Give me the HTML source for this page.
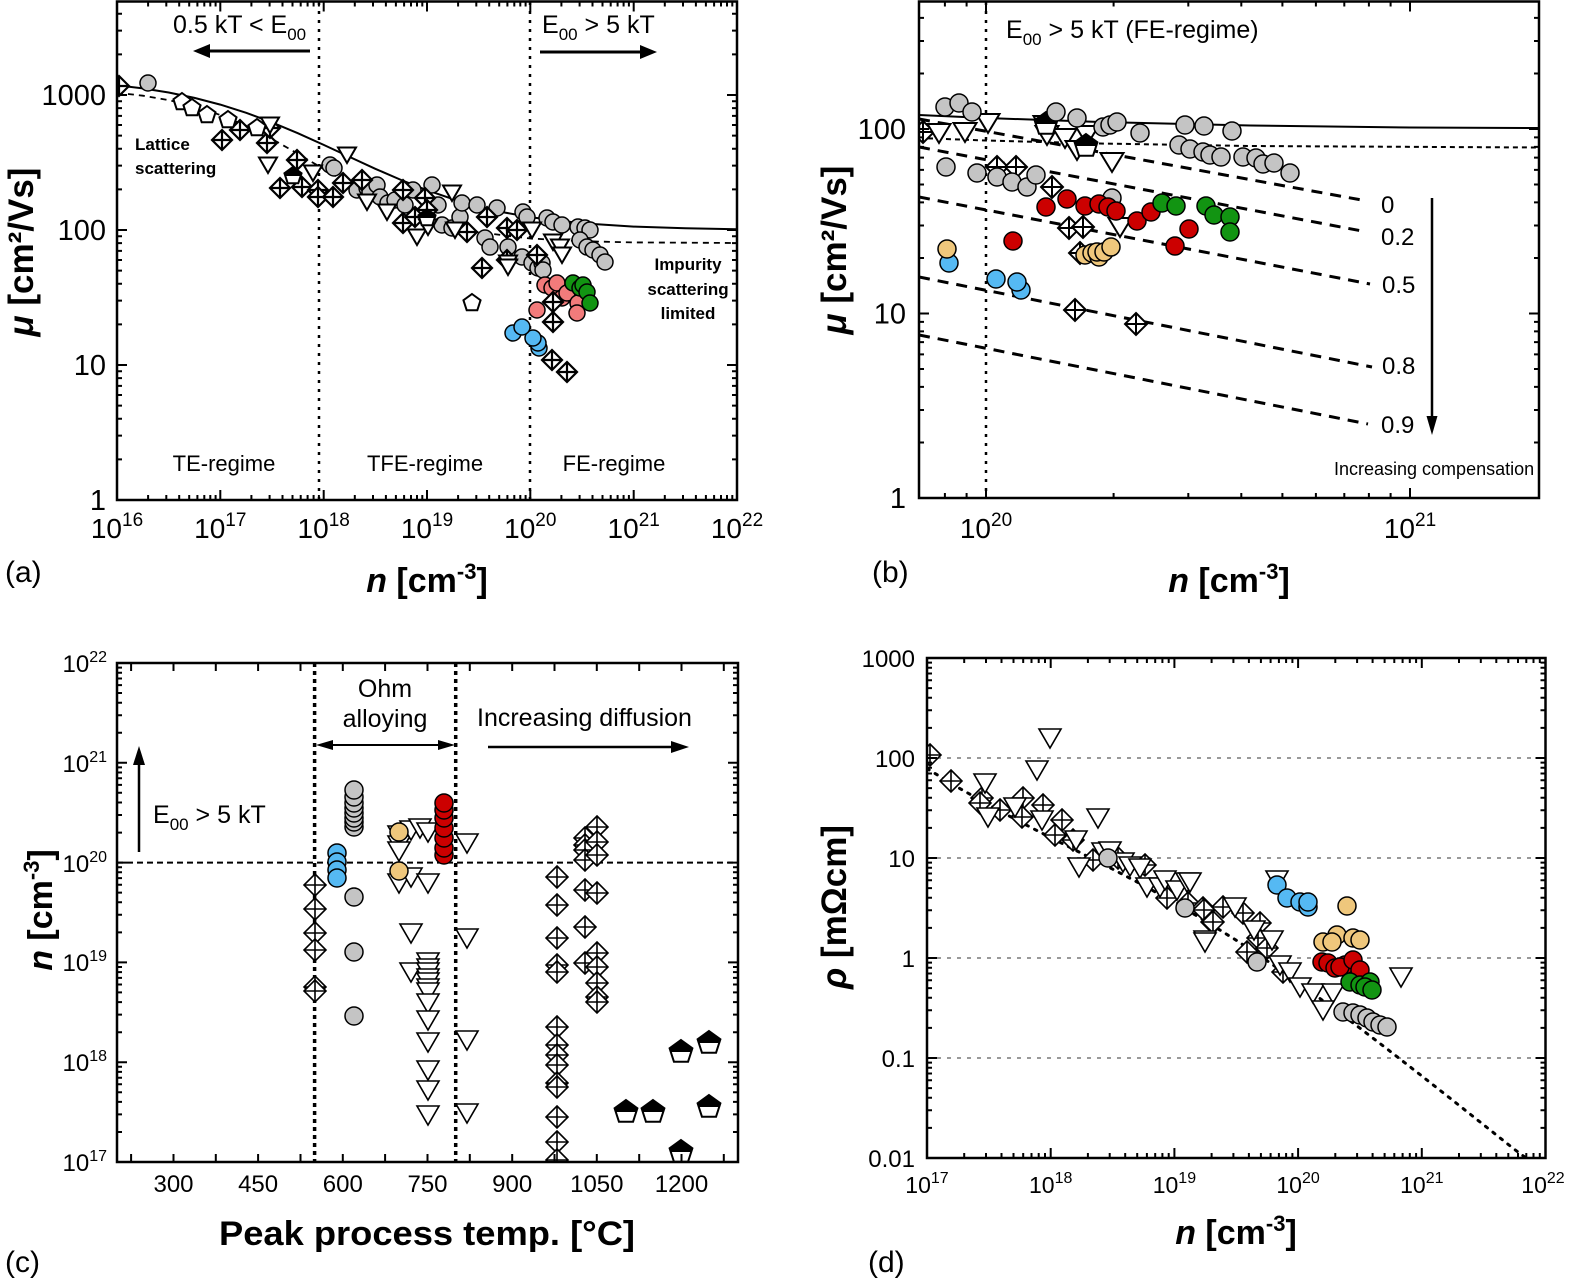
<!DOCTYPE html>
<html><head><meta charset="utf-8"><style>
html,body{margin:0;padding:0;background:#fff;}
svg{display:block;font-family:"Liberation Sans",Arial,sans-serif;}
</style></head><body>
<svg width="1570" height="1280" viewBox="0 0 1570 1280" xmlns="http://www.w3.org/2000/svg">
<defs>
<clipPath id="ca"><rect x="117" y="1.5" width="620" height="498.5"/></clipPath>
<clipPath id="cb"><rect x="919" y="1.5" width="620" height="496.5"/></clipPath>
<clipPath id="cc"><rect x="117" y="663" width="621" height="499"/></clipPath>
<clipPath id="cd"><rect x="927" y="658" width="618.5" height="500"/></clipPath>
<path id="tA" d="M-9,-7.5H9L0,8Z" fill="#fff" stroke="#000" stroke-width="2"/>
<g id="dA" stroke="#000" stroke-width="2.2"><path d="M0,-10L10,0L0,10L-10,0Z" fill="#fff"/><path d="M0,-10V10M-10,0H10" fill="none"/></g>
<path id="pA" d="M0,-9L8.56,-2.78L5.29,7.28L-5.29,7.28L-8.56,-2.78Z" fill="#fff" stroke="#000" stroke-width="2"/>
<g id="hA"><path d="M0,-9L8.56,-2.78L5.29,7.28L-5.29,7.28L-8.56,-2.78Z" fill="#fff" stroke="#000" stroke-width="2"/><path d="M0,-9L8.56,-2.78L7.66,0L-7.66,0L-8.56,-2.78Z" fill="#000"/></g>
<path id="tB" d="M-11.5,-9H11.5L0,10Z" fill="#fff" stroke="#000" stroke-width="2"/>
<g id="dB" stroke="#000" stroke-width="2"><path d="M0,-11L11,0L0,11L-11,0Z" fill="#fff"/><path d="M0,-11V11M-11,0H11" fill="none"/></g>
<g id="dC" stroke="#000" stroke-width="1.6"><path d="M0,-11L11,0L0,11L-11,0Z" fill="#fff"/><path d="M0,-11V11M-11,0H11" fill="none"/></g>
<path id="tC" d="M-11,-9H11L0,10Z" fill="#fff" stroke="#000" stroke-width="1.6"/>
<g id="hC"><path d="M0,-12L11.4,-3.7L7.05,9.7L-7.05,9.7L-11.4,-3.7Z" fill="#fff" stroke="#000" stroke-width="2"/><path d="M0,-12L11.4,-3.7L10.2,0L-10.2,0L-11.4,-3.7Z" fill="#000"/></g>

<path id="xa" d="M117 0v-10M220.3 0v-10M323.7 0v-10M427 0v-10M530.3 0v-10M633.7 0v-10M737 0v-10M148.1 0v-5M166.3 0v-5M179.2 0v-5M189.2 0v-5M197.4 0v-5M204.3 0v-5M210.3 0v-5M215.6 0v-5M251.4 0v-5M269.6 0v-5M282.5 0v-5M292.5 0v-5M300.7 0v-5M307.6 0v-5M313.6 0v-5M318.9 0v-5M354.8 0v-5M373 0v-5M385.9 0v-5M395.9 0v-5M404.1 0v-5M411 0v-5M417 0v-5M422.3 0v-5M458.1 0v-5M476.3 0v-5M489.2 0v-5M499.2 0v-5M507.4 0v-5M514.3 0v-5M520.3 0v-5M525.6 0v-5M561.4 0v-5M579.6 0v-5M592.5 0v-5M602.5 0v-5M610.7 0v-5M617.6 0v-5M623.6 0v-5M628.9 0v-5M664.8 0v-5M683 0v-5M695.9 0v-5M705.9 0v-5M714.1 0v-5M721 0v-5M727 0v-5M732.3 0v-5" stroke="#000" stroke-width="2" fill="none"/>
<path id="ya" d="M0 500h10M0 365h10M0 230h10M0 95h10M0 459.4h5M0 435.6h5M0 418.7h5M0 405.6h5M0 395h5M0 385.9h5M0 378.1h5M0 371.2h5M0 324.4h5M0 300.6h5M0 283.7h5M0 270.6h5M0 260h5M0 250.9h5M0 243.1h5M0 236.2h5M0 189.4h5M0 165.6h5M0 148.7h5M0 135.6h5M0 125h5M0 115.9h5M0 108.1h5M0 101.2h5M0 54.4h5M0 30.6h5M0 13.7h5" stroke="#000" stroke-width="2" fill="none"/>
<path id="xb" d="M986 0v-10M1410 0v-10M944.9 0v-5M966.6 0v-5M1113.6 0v-5M1188.3 0v-5M1241.3 0v-5M1282.4 0v-5M1315.9 0v-5M1344.3 0v-5M1368.9 0v-5M1390.6 0v-5" stroke="#000" stroke-width="2" fill="none"/>
<path id="yb" d="M0 498h10M0 313.5h10M0 129h10M0 442.5h5M0 410h5M0 386.9h5M0 369h5M0 354.4h5M0 342.1h5M0 331.4h5M0 321.9h5M0 258h5M0 225.5h5M0 202.4h5M0 184.5h5M0 169.9h5M0 157.6h5M0 146.9h5M0 137.4h5M0 73.5h5M0 41h5M0 17.9h5" stroke="#000" stroke-width="2" fill="none"/>
<path id="xc" d="M131.1 0v-8M173.5 0v-8M215.8 0v-8M258.1 0v-8M300.5 0v-8M342.8 0v-8M385.1 0v-8M427.5 0v-8M469.8 0v-8M512.2 0v-8M554.5 0v-8M596.8 0v-8M639.2 0v-8M681.5 0v-8M723.8 0v-8" stroke="#000" stroke-width="2" fill="none"/>
<path id="yc" d="M0 762.8h10M0 862.6h10M0 962.4h10M0 1062.2h10M0 1132h5M0 1114.4h5M0 1101.9h5M0 1092.2h5M0 1084.3h5M0 1077.7h5M0 1071.9h5M0 1066.8h5M0 1032.2h5M0 1014.6h5M0 1002.1h5M0 992.4h5M0 984.5h5M0 977.9h5M0 972.1h5M0 967h5M0 932.4h5M0 914.8h5M0 902.3h5M0 892.6h5M0 884.7h5M0 878.1h5M0 872.3h5M0 867.2h5M0 832.6h5M0 815h5M0 802.5h5M0 792.8h5M0 784.9h5M0 778.3h5M0 772.5h5M0 767.4h5M0 732.8h5M0 715.2h5M0 702.7h5M0 693h5M0 685.1h5M0 678.5h5M0 672.7h5M0 667.6h5" stroke="#000" stroke-width="2" fill="none"/>
<path id="xd" d="M1050.7 0v-10M1174.4 0v-10M1298.1 0v-10M1421.8 0v-10M964.2 0v-5M986 0v-5M1001.5 0v-5M1013.5 0v-5M1023.2 0v-5M1031.5 0v-5M1038.7 0v-5M1045 0v-5M1087.9 0v-5M1109.7 0v-5M1125.2 0v-5M1137.2 0v-5M1146.9 0v-5M1155.2 0v-5M1162.4 0v-5M1168.7 0v-5M1211.6 0v-5M1233.4 0v-5M1248.9 0v-5M1260.9 0v-5M1270.6 0v-5M1278.9 0v-5M1286.1 0v-5M1292.4 0v-5M1335.3 0v-5M1357.1 0v-5M1372.6 0v-5M1384.6 0v-5M1394.3 0v-5M1402.6 0v-5M1409.8 0v-5M1416.1 0v-5M1459 0v-5M1480.8 0v-5M1496.3 0v-5M1508.3 0v-5M1518 0v-5M1526.3 0v-5M1533.5 0v-5M1539.8 0v-5" stroke="#000" stroke-width="2" fill="none"/>
<path id="yd" d="M0 758h10M0 858h10M0 958h10M0 1058h10M0 1127.9h5M0 1110.3h5M0 1097.8h5M0 1088.1h5M0 1080.2h5M0 1073.5h5M0 1067.7h5M0 1062.6h5M0 1027.9h5M0 1010.3h5M0 997.8h5M0 988.1h5M0 980.2h5M0 973.5h5M0 967.7h5M0 962.6h5M0 927.9h5M0 910.3h5M0 897.8h5M0 888.1h5M0 880.2h5M0 873.5h5M0 867.7h5M0 862.6h5M0 827.9h5M0 810.3h5M0 797.8h5M0 788.1h5M0 780.2h5M0 773.5h5M0 767.7h5M0 762.6h5M0 727.9h5M0 710.3h5M0 697.8h5M0 688.1h5M0 680.2h5M0 673.5h5M0 667.7h5M0 662.6h5" stroke="#000" stroke-width="2" fill="none"/>
</defs>
<rect width="1570" height="1280" fill="#fff"/>

<!-- ================= PANEL A ================= -->
<g clip-path="url(#ca)">
<line x1="319" y1="2" x2="319" y2="499" stroke="#000" stroke-width="2.5" stroke-dasharray="3 6"/>
<line x1="530" y1="2" x2="530" y2="499" stroke="#000" stroke-width="2.5" stroke-dasharray="3 6"/>
<polyline fill="none" stroke="#000" stroke-width="2" points="117,85.3 142.8,88.4 168.7,92.5 194.5,97.9 220.3,104.6 246.2,112.8 272,122.4 297.8,133.2 323.7,144.9 349.5,156.9 375.3,168.8 401.2,180 427,190.2 452.8,199.1 478.7,206.5 504.5,212.5 530.3,217.2 582,223.3 633.7,226.6 685.3,228.3 737,229.3"/>
<polyline fill="none" stroke="#000" stroke-width="1.8" stroke-dasharray="6 5" points="117,92.7 142.8,95.7 168.7,100.1 194.5,106.5 220.3,115 246.2,125.8 272,139 297.8,153.7 323.7,169.1 349.5,184.3 375.3,198.2 401.2,210.2 427,219.8 478.7,232.3 530.3,238.5 582,241.2 633.7,242.4 737,243"/>
<g fill="#c4c4c4" stroke="#000" stroke-width="1.5">
<circle cx="148" cy="83" r="8"/><circle cx="330" cy="165" r="8"/><circle cx="334" cy="168" r="8"/><circle cx="357" cy="190" r="8"/><circle cx="367" cy="188" r="8"/><circle cx="370" cy="192" r="8"/><circle cx="377" cy="185" r="8"/><circle cx="380" cy="197" r="8"/><circle cx="388" cy="203" r="8"/><circle cx="395" cy="200" r="8"/><circle cx="405" cy="205" r="8"/><circle cx="413" cy="190" r="8"/><circle cx="432" cy="185" r="8"/><circle cx="438" cy="205" r="8"/><circle cx="442" cy="225" r="8"/><circle cx="452" cy="228" r="8"/><circle cx="460" cy="217" r="8"/><circle cx="462" cy="203" r="8"/><circle cx="477" cy="205" r="8"/><circle cx="497" cy="208" r="8"/><circle cx="485" cy="238" r="8"/><circle cx="490" cy="247" r="8"/><circle cx="508" cy="247" r="8"/><circle cx="522" cy="257" r="8"/><circle cx="523" cy="212" r="8"/><circle cx="527" cy="217" r="8"/><circle cx="532" cy="263" r="8"/><circle cx="538" cy="268" r="8"/><circle cx="542" cy="263" r="8"/><circle cx="543" cy="270" r="8"/><circle cx="547" cy="218" r="8"/><circle cx="553" cy="222" r="8"/><circle cx="562" cy="225" r="8"/><circle cx="578" cy="227" r="8"/><circle cx="585" cy="228" r="8"/><circle cx="590" cy="230" r="8"/><circle cx="580" cy="240" r="8"/><circle cx="587" cy="247" r="8"/><circle cx="593" cy="250" r="8"/><circle cx="600" cy="255" r="8"/><circle cx="605" cy="262" r="8"/>
</g>
<g fill="#f27b7b" stroke="#000" stroke-width="1.5">
<circle cx="537" cy="310" r="8"/><circle cx="545" cy="285" r="8"/><circle cx="552" cy="288" r="8"/><circle cx="557" cy="283" r="8"/><circle cx="562" cy="298" r="8"/><circle cx="567" cy="293" r="8"/><circle cx="578" cy="303" r="8"/><circle cx="577" cy="313" r="8"/>
</g>
<g fill="#129412" stroke="#000" stroke-width="1.5">
<circle cx="573" cy="283" r="8"/><circle cx="580" cy="288" r="8"/><circle cx="583" cy="285" r="8"/><circle cx="587" cy="292" r="8"/><circle cx="590" cy="303" r="8"/>
</g>
<g fill="#55b9f3" stroke="#000" stroke-width="1.5">
<circle cx="539" cy="348" r="8"/><circle cx="538" cy="343" r="8"/><circle cx="533" cy="338" r="8"/><circle cx="513" cy="333" r="8"/><circle cx="522" cy="327" r="8"/>
</g>
<g>
<use href="#dA" x="119" y="86"/><use href="#dA" x="222" y="140"/><use href="#dA" x="240" y="130"/><use href="#dA" x="267" y="143"/><use href="#dA" x="270" y="128"/><use href="#dA" x="297" y="160"/><use href="#dA" x="280" y="188"/><use href="#dA" x="302" y="187"/><use href="#dA" x="318" y="190"/><use href="#dA" x="318" y="197"/><use href="#dA" x="333" y="197"/><use href="#dA" x="343" y="183"/><use href="#dA" x="362" y="180"/><use href="#dA" x="403" y="190"/><use href="#dA" x="403" y="223"/><use href="#dA" x="415" y="217"/><use href="#dA" x="425" y="198"/><use href="#dA" x="427" y="210"/><use href="#dA" x="467" y="232"/><use href="#dA" x="487" y="217"/><use href="#dA" x="482" y="268"/><use href="#dA" x="507" y="228"/><use href="#dA" x="517" y="230"/><use href="#dA" x="507" y="260"/><use href="#dA" x="537" y="255"/><use href="#dA" x="553" y="302"/><use href="#dA" x="553" y="322"/><use href="#dA" x="552" y="360"/><use href="#dA" x="567" y="372"/>
<use href="#tA" x="270" y="125"/><use href="#tA" x="268" y="165"/><use href="#tA" x="313" y="173"/><use href="#tA" x="347" y="155"/><use href="#tA" x="367" y="202"/><use href="#tA" x="387" y="212"/><use href="#tA" x="417" y="237"/><use href="#tA" x="428" y="227"/><use href="#tA" x="452" y="193"/><use href="#tA" x="455" y="230"/><use href="#tA" x="508" y="263"/><use href="#tA" x="508" y="267"/><use href="#tA" x="532" y="230"/><use href="#tA" x="553" y="242"/><use href="#tA" x="560" y="247"/><use href="#tA" x="562" y="255"/>
<use href="#pA" x="182" y="102"/><use href="#pA" x="192" y="108"/><use href="#pA" x="207" y="115"/><use href="#pA" x="228" y="120"/><use href="#pA" x="257" y="128"/><use href="#pA" x="472" y="303"/>
<use href="#hA" x="293" y="176"/><use href="#hA" x="427" y="218"/>
</g>
</g>
<rect x="117" y="1.5" width="620" height="498.5" fill="none" stroke="#000" stroke-width="2.5"/>
<use href="#xa" transform="translate(0,500)"/>
<use href="#xa" transform="translate(0,1.5) scale(1,-1)"/>
<use href="#ya" transform="translate(117,0)"/>
<use href="#ya" transform="translate(737,0) scale(-1,1)"/>
<line x1="310" y1="51" x2="205" y2="51" stroke="#000" stroke-width="3"/>
<polygon points="193,51 210,44 210,58" fill="#000"/>
<line x1="540" y1="52" x2="642" y2="52" stroke="#000" stroke-width="3"/>
<polygon points="657,52 640,45 640,59" fill="#000"/>
<text x="173" y="33" font-size="25">0.5 kT &lt; E<tspan font-size="17" dy="7">00</tspan></text>
<text x="542" y="33" font-size="25">E<tspan font-size="17" dy="7">00</tspan><tspan dy="-7"> &gt; 5 kT</tspan></text>
<g font-size="17" font-weight="bold">
<text x="135" y="150">Lattice</text>
<text x="135" y="174">scattering</text>
<text x="688" y="270" text-anchor="middle">Impurity</text>
<text x="688" y="295" text-anchor="middle">scattering</text>
<text x="688" y="319" text-anchor="middle">limited</text>
</g>
<g font-size="22" text-anchor="middle">
<text x="224" y="471">TE-regime</text>
<text x="425" y="471">TFE-regime</text>
<text x="614" y="471">FE-regime</text>
</g>
<g font-size="29" text-anchor="end">
<text x="106" y="105">1000</text><text x="106" y="240">100</text><text x="106" y="375">10</text><text x="106" y="510">1</text>
</g>
<g font-size="28" text-anchor="middle">
<text x="117" y="538">10<tspan font-size="19" dy="-12">16</tspan></text>
<text x="220.3" y="538">10<tspan font-size="19" dy="-12">17</tspan></text>
<text x="323.7" y="538">10<tspan font-size="19" dy="-12">18</tspan></text>
<text x="427" y="538">10<tspan font-size="19" dy="-12">19</tspan></text>
<text x="530.3" y="538">10<tspan font-size="19" dy="-12">20</tspan></text>
<text x="633.7" y="538">10<tspan font-size="19" dy="-12">21</tspan></text>
<text x="737" y="538">10<tspan font-size="19" dy="-12">22</tspan></text>
</g>
<text x="5" y="582" font-size="30">(a)</text>
<text x="427" y="592" font-size="34" font-weight="bold" text-anchor="middle"><tspan font-style="italic">n</tspan> [cm<tspan font-size="22" dy="-13">-3</tspan><tspan dy="13">]</tspan></text>
<text transform="translate(33,252) rotate(-90)" font-size="35" font-weight="bold" text-anchor="middle"><tspan font-style="italic">μ</tspan> [cm²/Vs]</text>

<!-- ================= PANEL B ================= -->
<g clip-path="url(#cb)">
<line x1="986" y1="2" x2="986" y2="497" stroke="#000" stroke-width="2.5" stroke-dasharray="3 6"/>
<polyline fill="none" stroke="#000" stroke-width="2" points="919,115 986,118 1100,122 1250,125.5 1410,127.5 1539,128"/>
<polyline fill="none" stroke="#000" stroke-width="2" stroke-dasharray="5 4" points="919,138 986,140.5 1100,143.5 1250,146 1539,147.5"/>
<g stroke="#000" stroke-width="3" stroke-dasharray="11 8" fill="none">
<line x1="919" y1="119" x2="1367" y2="201"/>
<line x1="919" y1="147" x2="1362" y2="231"/>
<line x1="919" y1="197" x2="1370" y2="284"/>
<line x1="919" y1="277" x2="1372" y2="367"/>
<line x1="919" y1="335" x2="1368" y2="424"/>
</g>
<g>
<use href="#dB" x="923" y="132"/><use href="#dB" x="997" y="167"/><use href="#dB" x="1016" y="167"/><use href="#dB" x="1052" y="187"/><use href="#dB" x="1069" y="228"/><use href="#dB" x="1083" y="227"/><use href="#dB" x="1075" y="310"/><use href="#dB" x="1136" y="324"/><use href="#dB" x="1080" y="253"/>
<use href="#tB" x="939" y="133"/><use href="#tB" x="965" y="132"/><use href="#tB" x="988" y="123"/><use href="#tB" x="1045" y="125"/><use href="#tB" x="1047" y="135"/><use href="#tB" x="1065" y="138"/><use href="#tB" x="1087" y="135"/><use href="#tB" x="1077" y="150"/><use href="#tB" x="1112" y="162"/><use href="#tB" x="1120" y="227"/>
<use href="#hC" x="1046" y="124"/><use href="#hC" x="1086" y="146"/>
</g>
<g fill="#c4c4c4" stroke="#000" stroke-width="1.5">
<circle cx="945" cy="107" r="9"/><circle cx="959" cy="103" r="9"/><circle cx="972" cy="112" r="9"/><circle cx="1056" cy="112" r="9"/><circle cx="1077" cy="118" r="9"/><circle cx="1103" cy="127" r="9"/><circle cx="1110" cy="125" r="9"/><circle cx="1117" cy="122" r="9"/><circle cx="1140" cy="133" r="9"/><circle cx="1185" cy="125" r="9"/><circle cx="1204" cy="126" r="9"/><circle cx="1232" cy="131" r="9"/><circle cx="1179" cy="145" r="9"/><circle cx="1190" cy="149" r="9"/><circle cx="1203" cy="152" r="9"/><circle cx="1210" cy="155" r="9"/><circle cx="1221" cy="157" r="9"/><circle cx="1243" cy="157" r="9"/><circle cx="1256" cy="158" r="9"/><circle cx="1263" cy="164" r="9"/><circle cx="1274" cy="163" r="9"/><circle cx="1290" cy="173" r="9"/><circle cx="946" cy="167" r="9"/><circle cx="977" cy="173" r="9"/><circle cx="997" cy="177" r="9"/><circle cx="1012" cy="182" r="9"/><circle cx="1027" cy="187" r="9"/><circle cx="1036" cy="175" r="9"/><circle cx="1112" cy="198" r="9"/>
</g>
<g fill="#cc0000" stroke="#000" stroke-width="1.5">
<circle cx="1046" cy="207" r="9"/><circle cx="1067" cy="199" r="9"/><circle cx="1085" cy="206" r="9"/><circle cx="1099" cy="204" r="9"/><circle cx="1108" cy="207" r="9"/><circle cx="1116" cy="211" r="9"/><circle cx="1137" cy="221" r="9"/><circle cx="1151" cy="212" r="9"/><circle cx="1013" cy="241" r="9"/><circle cx="1189" cy="229" r="9"/><circle cx="1175" cy="246" r="9"/>
</g>
<g fill="#129412" stroke="#000" stroke-width="1.5">
<circle cx="1162" cy="203" r="9"/><circle cx="1176" cy="206" r="9"/><circle cx="1206" cy="206" r="9"/><circle cx="1214" cy="215" r="9"/><circle cx="1230" cy="217" r="9"/><circle cx="1230" cy="232" r="9"/>
</g>
<g fill="#55b9f3" stroke="#000" stroke-width="1.5">
<circle cx="949" cy="263" r="9"/><circle cx="996" cy="279" r="9"/><circle cx="1021" cy="290" r="9"/><circle cx="1017" cy="282" r="9"/>
</g>
<g fill="#efc77c" stroke="#000" stroke-width="1.5">
<circle cx="947" cy="249" r="9"/><circle cx="1085" cy="255" r="9"/><circle cx="1092" cy="253" r="9"/><circle cx="1099" cy="257" r="9"/><circle cx="1097" cy="252" r="9"/><circle cx="1104" cy="252" r="9"/><circle cx="1111" cy="247" r="9"/>
</g>
</g>
<rect x="919" y="1.5" width="620" height="496.5" fill="none" stroke="#000" stroke-width="2.5"/>
<use href="#xb" transform="translate(0,498)"/>
<use href="#xb" transform="translate(0,1.5) scale(1,-1)"/>
<use href="#yb" transform="translate(919,0)"/>
<use href="#yb" transform="translate(1539,0) scale(-1,1)"/>
<text x="1006" y="38" font-size="25">E<tspan font-size="17" dy="7">00</tspan><tspan dy="-7"> &gt; 5 kT (FE-regime)</tspan></text>
<g font-size="24">
<text x="1381" y="213">0</text>
<text x="1381" y="245">0.2</text>
<text x="1382" y="293">0.5</text>
<text x="1382" y="374">0.8</text>
<text x="1381" y="433">0.9</text>
</g>
<line x1="1432" y1="198" x2="1432" y2="420" stroke="#000" stroke-width="2.5"/>
<polygon points="1432,435 1426.5,416 1437.5,416" fill="#000"/>
<text x="1334" y="475" font-size="18">Increasing compensation</text>
<g font-size="29" text-anchor="end">
<text x="906" y="139">100</text><text x="906" y="323.5">10</text><text x="906" y="508">1</text>
</g>
<g font-size="28" text-anchor="middle">
<text x="986" y="538">10<tspan font-size="19" dy="-12">20</tspan></text>
<text x="1410" y="538">10<tspan font-size="19" dy="-12">21</tspan></text>
</g>
<text x="872" y="582" font-size="30">(b)</text>
<text x="1229" y="592" font-size="34" font-weight="bold" text-anchor="middle"><tspan font-style="italic">n</tspan> [cm<tspan font-size="22" dy="-13">-3</tspan><tspan dy="13">]</tspan></text>
<text transform="translate(846,250) rotate(-90)" font-size="35" font-weight="bold" text-anchor="middle"><tspan font-style="italic">μ</tspan> [cm²/Vs]</text>

<!-- ================= PANEL C ================= -->
<g clip-path="url(#cc)">
<line x1="117" y1="862.6" x2="738" y2="862.6" stroke="#000" stroke-width="2" stroke-dasharray="6 4"/>
<line x1="314.6" y1="663" x2="314.6" y2="1162" stroke="#000" stroke-width="3.5" stroke-dasharray="4 4"/>
<line x1="455.7" y1="663" x2="455.7" y2="1162" stroke="#000" stroke-width="3.5" stroke-dasharray="4 4"/>
<g>
<use href="#dC" x="315" y="885"/><use href="#dC" x="315" y="909"/><use href="#dC" x="315" y="933"/><use href="#dC" x="315" y="950"/><use href="#dC" x="315" y="987"/><use href="#dC" x="315" y="991"/>
<use href="#dC" x="557" y="877"/><use href="#dC" x="557" y="905"/><use href="#dC" x="557" y="938"/><use href="#dC" x="557" y="965"/><use href="#dC" x="557" y="972"/><use href="#dC" x="557" y="1027"/><use href="#dC" x="557" y="1045"/><use href="#dC" x="557" y="1055"/><use href="#dC" x="557" y="1065"/><use href="#dC" x="557" y="1083"/><use href="#dC" x="557" y="1087"/><use href="#dC" x="557" y="1117"/><use href="#dC" x="557" y="1142"/><use href="#dC" x="557" y="1160"/>
<use href="#dC" x="585" y="838"/><use href="#dC" x="585" y="845"/><use href="#dC" x="585" y="850"/><use href="#dC" x="585" y="860"/><use href="#dC" x="585" y="890"/><use href="#dC" x="585" y="927"/><use href="#dC" x="585" y="963"/>
<use href="#dC" x="597" y="827"/><use href="#dC" x="597" y="842"/><use href="#dC" x="597" y="855"/><use href="#dC" x="597" y="893"/><use href="#dC" x="597" y="953"/><use href="#dC" x="597" y="967"/><use href="#dC" x="597" y="983"/><use href="#dC" x="597" y="997"/><use href="#dC" x="597" y="1002"/>
<use href="#tC" x="399" y="835"/><use href="#tC" x="399" y="845"/><use href="#tC" x="399" y="851"/><use href="#tC" x="399" y="883"/>
<use href="#tC" x="411" y="830"/><use href="#tC" x="411" y="877"/><use href="#tC" x="411" y="933"/><use href="#tC" x="411" y="972"/><use href="#tC" x="420" y="828"/>
<use href="#tC" x="428" y="832"/><use href="#tC" x="428" y="883"/><use href="#tC" x="428" y="962"/><use href="#tC" x="428" y="968"/><use href="#tC" x="428" y="972"/><use href="#tC" x="428" y="978"/><use href="#tC" x="428" y="982"/><use href="#tC" x="428" y="988"/><use href="#tC" x="428" y="992"/><use href="#tC" x="428" y="1003"/><use href="#tC" x="428" y="1020"/><use href="#tC" x="428" y="1042"/><use href="#tC" x="428" y="1070"/><use href="#tC" x="428" y="1090"/><use href="#tC" x="428" y="1115"/>
<use href="#tC" x="467" y="843"/><use href="#tC" x="467" y="938"/><use href="#tC" x="467" y="1040"/><use href="#tC" x="467" y="1113"/>
</g>
<g fill="#c4c4c4" stroke="#000" stroke-width="1.5">
<circle cx="354" cy="827" r="9"/><circle cx="354" cy="822" r="9"/><circle cx="354" cy="818" r="9"/><circle cx="354" cy="813" r="9"/><circle cx="354" cy="808" r="9"/><circle cx="354" cy="803" r="9"/><circle cx="354" cy="797" r="9"/><circle cx="354" cy="790" r="9"/>
<circle cx="354" cy="897" r="9"/><circle cx="354" cy="952" r="9"/><circle cx="354" cy="1016" r="9"/>
</g>
<g fill="#55b9f3" stroke="#000" stroke-width="1.5">
<circle cx="337" cy="853" r="9"/><circle cx="337" cy="862" r="9"/><circle cx="337" cy="870" r="9"/><circle cx="337" cy="878" r="9"/>
</g>
<g fill="#efc77c" stroke="#000" stroke-width="1.5">
<circle cx="399" cy="832" r="9"/><circle cx="399" cy="871" r="9"/>
</g>
<g fill="#cc0000" stroke="#000" stroke-width="1.5">
<circle cx="444" cy="855" r="9"/><circle cx="444" cy="848" r="9"/><circle cx="444" cy="838" r="9"/><circle cx="444" cy="828" r="9"/><circle cx="444" cy="818" r="9"/><circle cx="444" cy="810" r="9"/><circle cx="444" cy="803" r="9"/>
</g>
<g>
<use href="#hC" x="626" y="1112"/><use href="#hC" x="653" y="1112"/><use href="#hC" x="681" y="1052"/><use href="#hC" x="709" y="1043"/><use href="#hC" x="709" y="1107"/><use href="#hC" x="681" y="1152"/>
</g>
</g>
<rect x="117" y="663" width="621" height="499" fill="none" stroke="#000" stroke-width="2.5"/>
<use href="#xc" transform="translate(0,1162)"/>
<use href="#xc" transform="translate(0,663) scale(1,-1)"/>
<use href="#yc" transform="translate(117,0)"/>
<use href="#yc" transform="translate(738,0) scale(-1,1)"/>
<text x="385" y="697" font-size="25" text-anchor="middle">Ohm</text>
<text x="385" y="727" font-size="25" text-anchor="middle">alloying</text>
<line x1="328" y1="745" x2="443" y2="745" stroke="#000" stroke-width="2"/>
<polygon points="316,745 333,740 333,750" fill="#000"/>
<polygon points="455,745 438,740 438,750" fill="#000"/>
<line x1="139" y1="852" x2="139" y2="762" stroke="#000" stroke-width="2.5"/>
<polygon points="139,746 133,765 145,765" fill="#000"/>
<text x="153" y="823" font-size="25">E<tspan font-size="17" dy="7">00</tspan><tspan dy="-7"> &gt; 5 kT</tspan></text>
<text x="477" y="726" font-size="25">Increasing diffusion</text>
<line x1="488" y1="747" x2="673" y2="747" stroke="#000" stroke-width="2.5"/>
<polygon points="689,747 671,741 671,753" fill="#000"/>
<g font-size="24" text-anchor="end">
<text x="107" y="672">10<tspan font-size="16" dy="-10">22</tspan></text>
<text x="107" y="772">10<tspan font-size="16" dy="-10">21</tspan></text>
<text x="107" y="872">10<tspan font-size="16" dy="-10">20</tspan></text>
<text x="107" y="971">10<tspan font-size="16" dy="-10">19</tspan></text>
<text x="107" y="1071">10<tspan font-size="16" dy="-10">18</tspan></text>
<text x="107" y="1171">10<tspan font-size="16" dy="-10">17</tspan></text>
</g>
<g font-size="24" text-anchor="middle">
<text x="173.5" y="1192">300</text><text x="258.1" y="1192">450</text><text x="342.8" y="1192">600</text><text x="427.5" y="1192">750</text><text x="512.2" y="1192">900</text><text x="596.8" y="1192">1050</text><text x="681.5" y="1192">1200</text>
</g>
<text x="427" y="1245" font-size="34" font-weight="bold" text-anchor="middle" textLength="416" lengthAdjust="spacingAndGlyphs">Peak process temp. [°C]</text>
<text x="5" y="1272" font-size="30">(c)</text>
<text transform="translate(52,910) rotate(-90)" font-size="34" font-weight="bold" text-anchor="middle"><tspan font-style="italic">n</tspan> [cm<tspan font-size="22" dy="-13">-3</tspan><tspan dy="13">]</tspan></text>

<!-- ================= PANEL D ================= -->
<g clip-path="url(#cd)">
<g stroke="#999" stroke-width="2" stroke-dasharray="4 6">
<line x1="927" y1="758" x2="1545" y2="758"/><line x1="927" y1="858" x2="1545" y2="858"/><line x1="927" y1="958" x2="1545" y2="958"/><line x1="927" y1="1058" x2="1545" y2="1058"/>
</g>
<polyline fill="none" stroke="#000" stroke-width="3" stroke-dasharray="2.5 7" stroke-linecap="round" points="927,768.6 957.9,787.4 988.9,805 1019.8,821.7 1050.7,837.6 1081.6,853.3 1112.6,869.1 1143.5,885.4 1174.4,902.6 1205.3,920.9 1236.3,940.3 1267.2,960.9 1298.1,982.5 1329,1005.1 1360,1028.2 1390.9,1051.9 1421.8,1076 1452.7,1100.3 1483.7,1124.9 1514.6,1149.5 1526,1158"/>
<g>
<use href="#dC" x="930" y="755"/><use href="#dC" x="951" y="781"/><use href="#dC" x="982" y="798"/><use href="#dC" x="980" y="803"/><use href="#dC" x="1000" y="810"/><use href="#dC" x="1023" y="798"/><use href="#dC" x="1043" y="805"/><use href="#dC" x="1022" y="817"/><use href="#dC" x="1062" y="820"/><use href="#dC" x="1055" y="835"/><use href="#dC" x="1073" y="840"/><use href="#dC" x="1093" y="860"/><use href="#dC" x="1118" y="858"/><use href="#dC" x="1145" y="865"/><use href="#dC" x="1167" y="898"/><use href="#dC" x="1188" y="903"/><use href="#dC" x="1203" y="908"/><use href="#dC" x="1204" y="910"/><use href="#dC" x="1212" y="922"/><use href="#dC" x="1213" y="922"/><use href="#dC" x="1223" y="907"/><use href="#dC" x="1243" y="913"/><use href="#dC" x="1260" y="923"/><use href="#dC" x="1258" y="938"/><use href="#dC" x="1247" y="952"/><use href="#dC" x="1267" y="948"/><use href="#dC" x="1283" y="972"/>
<use href="#tC" x="1050" y="738"/><use href="#tC" x="1037" y="770"/><use href="#tC" x="985" y="783"/><use href="#tC" x="988" y="817"/><use href="#tC" x="1015" y="807"/><use href="#tC" x="1042" y="820"/><use href="#tC" x="1098" y="818"/><use href="#tC" x="1076" y="840"/><use href="#tC" x="1079" y="867"/><use href="#tC" x="1103" y="852"/><use href="#tC" x="1110" y="851"/><use href="#tC" x="1123" y="862"/><use href="#tC" x="1130" y="866"/><use href="#tC" x="1140" y="868"/><use href="#tC" x="1147" y="887"/><use href="#tC" x="1160" y="887"/><use href="#tC" x="1165" y="880"/><use href="#tC" x="1177" y="890"/><use href="#tC" x="1187" y="882"/><use href="#tC" x="1190" y="882"/><use href="#tC" x="1205" y="940"/><use href="#tC" x="1205" y="942"/><use href="#tC" x="1235" y="907"/><use href="#tC" x="1254" y="930"/><use href="#tC" x="1272" y="940"/><use href="#tC" x="1280" y="965"/><use href="#tC" x="1290" y="972"/><use href="#tC" x="1300" y="987"/><use href="#tC" x="1313" y="993"/><use href="#tC" x="1333" y="993"/><use href="#tC" x="1323" y="1010"/><use href="#tC" x="1401" y="977"/><use href="#tC" x="1277" y="880"/>
</g>
<g fill="#c4c4c4" stroke="#000" stroke-width="1.5">
<circle cx="1108" cy="858" r="9"/><circle cx="1185" cy="908" r="9"/><circle cx="1257" cy="962" r="9"/><circle cx="1343" cy="1012" r="9"/><circle cx="1353" cy="1013" r="9"/><circle cx="1360" cy="1015" r="9"/><circle cx="1367" cy="1018" r="9"/><circle cx="1373" cy="1022" r="9"/><circle cx="1380" cy="1025" r="9"/><circle cx="1387" cy="1027" r="9"/>
</g>
<g fill="#55b9f3" stroke="#000" stroke-width="1.5">
<circle cx="1277" cy="885" r="9"/><circle cx="1287" cy="898" r="9"/><circle cx="1300" cy="902" r="9"/><circle cx="1308" cy="907" r="9"/><circle cx="1308" cy="902" r="9"/>
</g>
<g fill="#efc77c" stroke="#000" stroke-width="1.5">
<circle cx="1347" cy="906" r="9"/><circle cx="1323" cy="942" r="9"/><circle cx="1337" cy="935" r="9"/><circle cx="1332" cy="942" r="9"/><circle cx="1353" cy="938" r="9"/><circle cx="1360" cy="940" r="9"/>
</g>
<g fill="#cc0000" stroke="#000" stroke-width="1.5">
<circle cx="1322" cy="962" r="9"/><circle cx="1328" cy="963" r="9"/><circle cx="1335" cy="968" r="9"/><circle cx="1345" cy="965" r="9"/><circle cx="1340" cy="967" r="9"/><circle cx="1353" cy="960" r="9"/><circle cx="1360" cy="970" r="9"/>
</g>
<g fill="#129412" stroke="#000" stroke-width="1.5">
<circle cx="1350" cy="982" r="9"/><circle cx="1360" cy="985" r="9"/><circle cx="1370" cy="982" r="9"/><circle cx="1365" cy="987" r="9"/><circle cx="1372" cy="990" r="9"/>
</g>
</g>
<rect x="927" y="658" width="618.5" height="500" fill="none" stroke="#000" stroke-width="2.5"/>
<use href="#xd" transform="translate(0,1158)"/>
<use href="#xd" transform="translate(0,658) scale(1,-1)"/>
<use href="#yd" transform="translate(927,0)"/>
<use href="#yd" transform="translate(1545.5,0) scale(-1,1)"/>
<g font-size="24" text-anchor="end">
<text x="915" y="667">1000</text><text x="915" y="767">100</text><text x="915" y="867">10</text><text x="915" y="967">1</text><text x="915" y="1067">0.1</text><text x="915" y="1167">0.01</text>
</g>
<g font-size="23" text-anchor="middle">
<text x="927" y="1193">10<tspan font-size="16" dy="-10">17</tspan></text>
<text x="1050.7" y="1193">10<tspan font-size="16" dy="-10">18</tspan></text>
<text x="1174.4" y="1193">10<tspan font-size="16" dy="-10">19</tspan></text>
<text x="1298.1" y="1193">10<tspan font-size="16" dy="-10">20</tspan></text>
<text x="1421.8" y="1193">10<tspan font-size="16" dy="-10">21</tspan></text>
<text x="1543" y="1193">10<tspan font-size="16" dy="-10">22</tspan></text>
</g>
<text x="1236" y="1244" font-size="34" font-weight="bold" text-anchor="middle"><tspan font-style="italic">n</tspan> [cm<tspan font-size="22" dy="-13">-3</tspan><tspan dy="13">]</tspan></text>
<text x="868" y="1272" font-size="30">(d)</text>
<text transform="translate(846,907) rotate(-90)" font-size="35" font-weight="bold" text-anchor="middle"><tspan font-style="italic">ρ</tspan> [mΩcm]</text>
</svg>
</body></html>
